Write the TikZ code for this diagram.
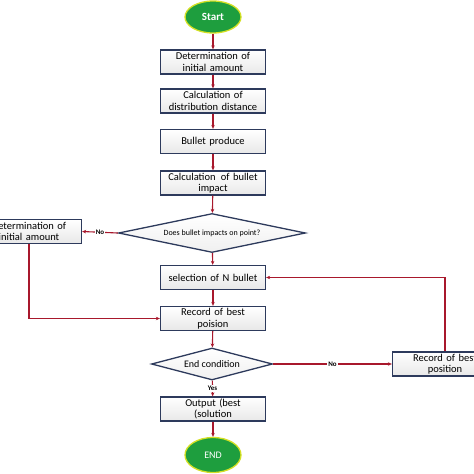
\documentclass[tikz,border=0pt]{standalone}
\usepackage{fontspec}
\setmainfont{Carlito}
\usetikzlibrary{shapes.geometric,arrows.meta}
\definecolor{linered}{HTML}{A8182C}
\definecolor{boxblue}{HTML}{2D3A5C}
\definecolor{okgreen}{HTML}{1E9E3E}
\definecolor{rimyellow}{HTML}{D4E024}
\begin{document}
\begin{tikzpicture}[x=1pt, y=-1pt,
	box/.style={draw=boxblue, line width=1.3pt, top color=white, bottom color=gray!18, minimum width=105pt, minimum height=24pt, inner sep=0.5pt, text width=104pt, align=center, font=\fontsize{10.5}{11.5}\selectfont},
	choice/.style={draw=boxblue, line width=1.3pt, top color=white, bottom color=gray!12, diamond, inner sep=0pt},
	term/.style={ellipse, draw=rimyellow, line width=1.3pt, fill=okgreen, text=white, minimum width=56pt, inner sep=0pt},
	link/.style={draw=linered, line width=1.1pt, -{Stealth[length=4pt, width=3.5pt]}},
	tag/.style={fill=white, inner sep=1pt, font=\fontsize{7}{8}\selectfont\bfseries}]
	\useasboundingbox (0,0) rectangle (474,474);
	\node[term, minimum height=32pt, font=\fontsize{11}{12}\selectfont\bfseries] (S) at (213,17) {Start};
	\node[box] (D1) at (213,62) {Determination of\\initial amount};
	\node[box] (C1) at (213,101) {Calculation of\\distribution distance};
	\node[box] (P) at (213,141.5) {Bullet produce};
	\node[box] (C2) at (213,183) {Calculation \,of bullet\\impact};
	\node[choice, shape aspect=4.8, minimum width=187pt, minimum height=39pt, font=\fontsize{8}{9}\selectfont] (Q1) at (212,233) {Does bullet impacts on point?};
	\node[box] (D2) at (29,231.5) {Determination of\\initial amount};
	\node[box] (N) at (213,277.5) {selection of N bullet};
	\node[box] (R1) at (213,318.5) {Record of best\\poision};
	\node[choice, shape aspect=3.8, minimum width=121pt, minimum height=32pt, font=\fontsize{10}{11}\selectfont] (Q2) at (212,364) {End condition};
	\node[box] (R2) at (445,364) {Record of best\\position};
	\node[box] (O) at (213,409) {Output (best\\(solution};
	\node[term, minimum height=35pt, font=\fontsize{10}{11}\selectfont] (E) at (213,455) {END};
	\draw[link] (S) -- (D1);
	\draw[link] (D1) -- (C1);
	\draw[link] (C1) -- (P);
	\draw[link] (P) -- (C2);
	\draw[link] (C2) -- (Q1);
	\draw[link] (Q1) -- (N);
	\draw[link] (N) -- (R1);
	\draw[link] (R1) -- (Q2);
	\draw[link] (Q2) -- node[tag] {Yes} (O);
	\draw[link] (O) -- (E);
	\draw[link] (Q1.west) -- node[tag, pos=0.5] {No} (D2.east);
	\draw[link] (D2.south) |- (R1.west);
	\draw[link] (Q2.east) -- node[tag] {No} (R2.west);
	\draw[link] (R2.north) |- (N.east);
\end{tikzpicture}
\end{document}
